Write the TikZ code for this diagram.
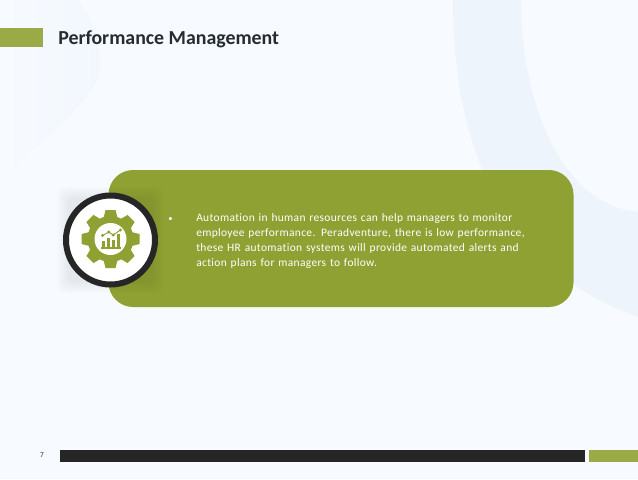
\documentclass[tikz,border=0pt]{standalone}
\usepackage{fontspec}
\setmainfont{Carlito}
\definecolor{bgc}{HTML}{F7FBFF}
\definecolor{bandc}{HTML}{EEF4FC}
\definecolor{leftc}{HTML}{F2F7FE}
\definecolor{olive}{HTML}{8FA133}
\definecolor{darkc}{HTML}{262626}
\definecolor{titlec}{HTML}{262B33}
\tikzset{
  cardbox/.style={fill=olive,draw=none,rounded corners=18.5pt},
  ringc/.style={circle,draw=darkc,line width=4.5pt,fill=white,minimum size=66.75pt,inner sep=0pt},
  bodytext/.style={text=white,font=\fontsize{8.6pt}{11.3pt}\selectfont\addfontfeatures{LetterSpace=3,Ligatures=NoCommon},align=left,anchor=north west,inner sep=0pt,text width=290pt},
}
\begin{document}
\begin{tikzpicture}[x=0.75pt,y=-0.75pt]
\useasboundingbox (0,0) rectangle (638,479);
\fill[bgc] (0,0) rectangle (638,479);
% background shapes
\shade[left color=bgc,right color=leftc] (0,0) -- (77,0) .. controls (92,15) and (101,45) .. (100,68) .. controls (99,95) and (50,135) .. (0,180) -- cycle;
\fill[bandc] (453,0) .. controls (453,110) and (480,260) .. (638,317) -- (638,212) .. controls (560,205) and (521,100) .. (521,0) -- cycle;
% card
\node[cardbox,minimum width=465pt*0.75,minimum height=137pt*0.75,inner sep=0pt] (card) at (341,238.5) {};
% soft shadow
\foreach \s in {53,51,...,43}{\fill[black,opacity=0.011,rounded corners=6pt] (110.5-\s,240-\s) rectangle (110.5+\s,240+\s);}
\node[ringc] (ring) at (110.5,240) {};
% gear
\begin{scope}[shift={(110.5,239)}]
  \fill[olive] (0,0) circle[radius=23];
  \foreach \a in {0,45,...,315}{\fill[olive,rotate=\a] (-7,-21) -- (-5,-29) -- (5,-29) -- (7,-21) -- cycle;}
  \fill[white] (0,0) circle[radius=16];
  \fill[olive] (-10,8) rectangle (10.5,9.5);
  \fill[olive] (-9,2) rectangle (-6,8);
  \fill[olive] (-4,-1.5) rectangle (-1,8);
  \fill[olive] (1,0.5) rectangle (4,8);
  \fill[olive] (6,-5) rectangle (9,8);
  \draw[olive,line width=0.7pt] (-8,-3.5) -- (-1.7,-7) -- (2.7,-4) -- (10,-9);
  \foreach \p in {(-8,-3.5),(-1.7,-7),(2.7,-4),(10,-9)}{\fill[olive] \p circle[radius=1.7];}
\end{scope}
% text
\node[bodytext] (body) at (168,213) {\makebox[21pt][l]{\fontsize{6.5pt}{11.3pt}\selectfont •}Automation in human resources can help managers to monitor\\
\hspace*{21pt}employee performance. Peradventure, there is low performance,\\
\hspace*{21pt}these HR automation systems will provide automated alerts and\\
\hspace*{21pt}action plans for managers to follow.};
% header
\fill[olive!90!white] (0,28) rectangle (43,47);
\node[anchor=west,inner sep=0pt,text=titlec,font=\fontsize{14.9pt}{17pt}\selectfont\bfseries] (title) at (58,39) {Performance Management};
% footer
\fill[darkc] (60,450) rectangle (585,462);
\fill[olive!90!white] (589,450) rectangle (638,462);
\node[inner sep=0pt,text=titlec,font=\fontsize{5.5pt}{7pt}\selectfont] (pg) at (42,455) {7};
\end{tikzpicture}
\end{document}
